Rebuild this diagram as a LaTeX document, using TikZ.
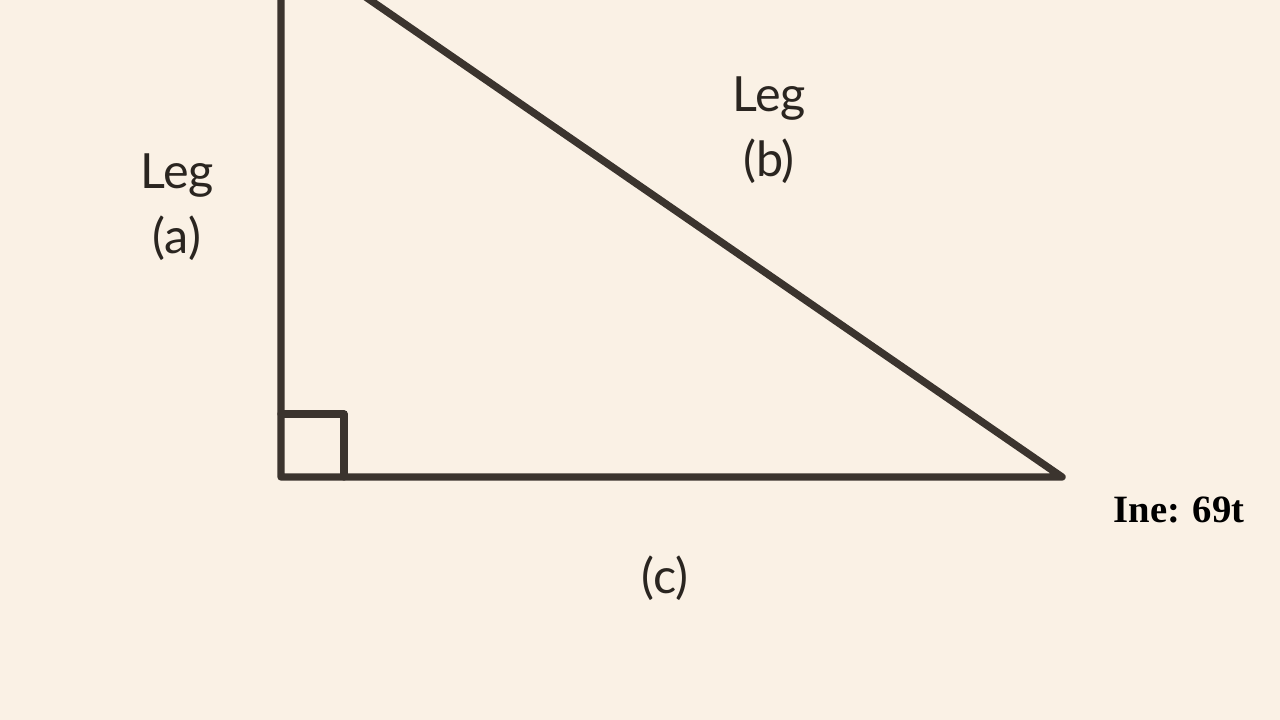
\documentclass[tikz,border=0pt]{standalone}
\usepackage{fontspec}
\setmainfont{Lato}
\newfontfamily\notefont{Liberation Serif}
\usetikzlibrary{positioning}
\definecolor{paper}{HTML}{FAF1E5}
\definecolor{ink}{HTML}{3B342E}
\definecolor{txt}{HTML}{2A2520}

\begin{document}
\begin{tikzpicture}[nodes = {align = center, text=txt},
    side/.style = {draw=ink, line width=2.1pt, line join=round, line cap=round},
    leglabel/.style = {font=\fontsize{13.8}{18.5}\selectfont}]
    \fill[paper] (0,0) rectangle (12.8,7.2);
    \useasboundingbox (0,0) rectangle (12.8,7.2);
    \clip (0,0) rectangle (12.8,7.2);
    \coordinate (top) at (2.81,7.4);
    \coordinate (corner) at (2.81,2.43);
    \coordinate (tip) at (10.62,2.43);
    \coordinate (hyptop) at (3.41,7.4);
    \draw[side] (top) -- (corner) -- (tip) -- (hyptop);
    \draw[side] ([yshift=0.63cm]corner) -| ([xshift=0.63cm]corner);
    \node (lega) [leglabel] at (1.77,5.13) {Leg\\(a)};
    \node (legb) [leglabel] at (7.69,5.90) {Leg\\(b)};
    \node (legc) [leglabel] at (6.65,1.42) {(c)};
    \node (note) [font=\notefont\bfseries\fontsize{11}{13}\selectfont, text=black] at (11.79,2.10) {Ine: 69t};
\end{tikzpicture}
\end{document}
